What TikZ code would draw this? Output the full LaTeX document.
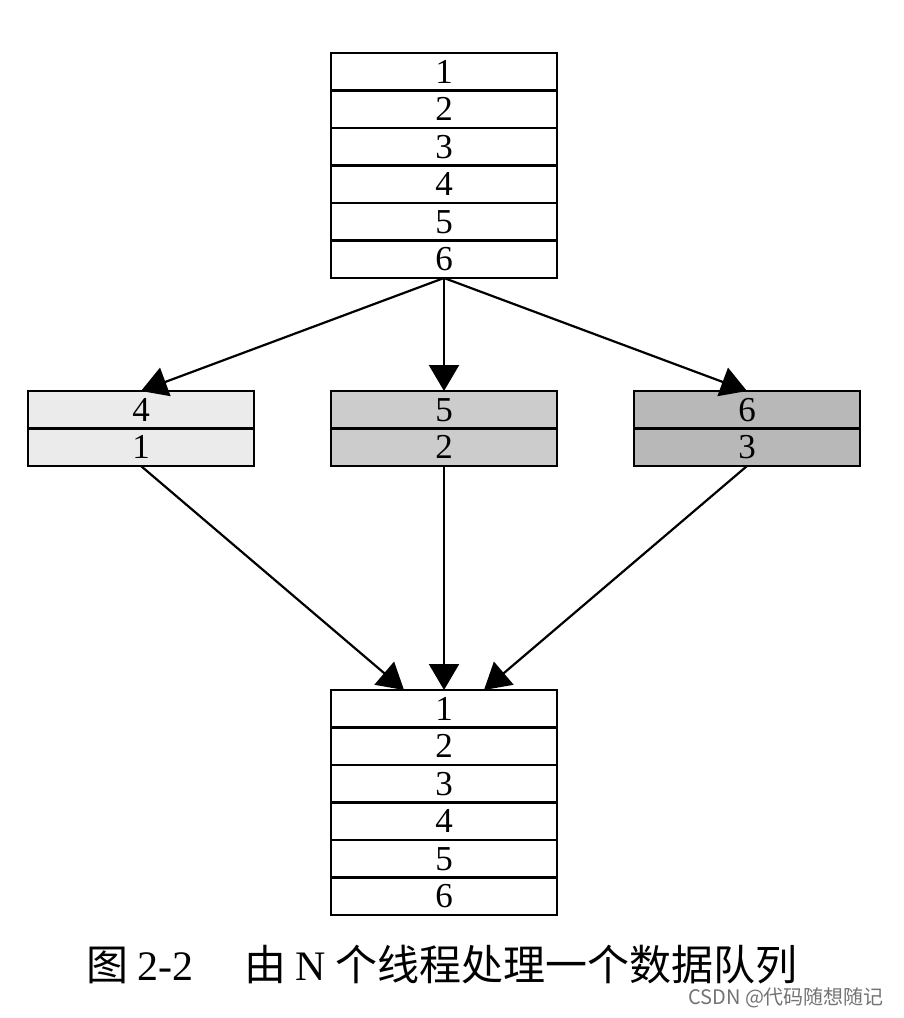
\documentclass[tikz,border=0pt]{standalone}
\usepackage{fontspec}
\setmainfont{Liberation Serif}
\newfontfamily\cjk{Noto Sans CJK SC}
\usetikzlibrary{positioning,arrows.meta}
\definecolor{grisclaro}{gray}{0.92}
\definecolor{grismedio}{gray}{0.80}
\definecolor{grisoscuro}{gray}{0.72}
\definecolor{gristexto}{gray}{0.45}

\begin{document}
\begin{tikzpicture}[x=0.5pt, y=-0.5pt,
  celda/.style={draw, fill=#1, line width=1.2pt, outer sep=0pt, inner sep=0pt,
    minimum width=113pt, minimum height=18.75pt, anchor=north,
    font=\fontsize{17.5}{18}\selectfont},
  celda/.default=white,
  flecha/.style={-{Triangle[length=13pt,width=15pt]}, line width=1.1pt},
]
  \useasboundingbox (0,0) rectangle (904,1018);
  % Cola de entrada
  \node[celda] (t1) at (444,53) {1};
  \foreach \i [remember=\i as \j (initially 1)] in {2,...,6}
    \node[celda, below=0pt of t\j] (t\i) {\i};
  % Hilos
  \node[celda=grisclaro] (a4) at (141,391) {4};
  \node[celda=grisclaro, below=0pt of a4] (a1) {1};
  \node[celda=grismedio] (m5) at (444,391) {5};
  \node[celda=grismedio, below=0pt of m5] (m2) {2};
  \node[celda=grisoscuro] (c6) at (747,391) {6};
  \node[celda=grisoscuro, below=0pt of c6] (c3) {3};
  % Cola de salida
  \node[celda] (b1) at (444,690) {1};
  \foreach \i [remember=\i as \j (initially 1)] in {2,...,6}
    \node[celda, below=0pt of b\j] (b\i) {\i};
  % Flechas
  \foreach \h in {a4, m5, c6}
    \draw[flecha] (t6.south) -- (\h.north);
  \draw[flecha] (a1.south) -- ([xshift=-20pt]b1.north);
  \draw[flecha] (m2.south) -- (b1.north);
  \draw[flecha] (c3.south) -- ([xshift=20pt]b1.north);
  % Pie de figura
  \node[font=\fontsize{21}{23}\selectfont] (pie) at (442,965)
    {\cjk 图 {\rmfamily 2-2}\hspace{1.2em}由 {\rmfamily N} 个线程处理一个数据队列};
  \node[anchor=east, font=\cjk\fontsize{10}{11}\selectfont, text=gristexto]
    (marca) at (891,998) {CSDN @代码随想随记};
\end{tikzpicture}
\end{document}
